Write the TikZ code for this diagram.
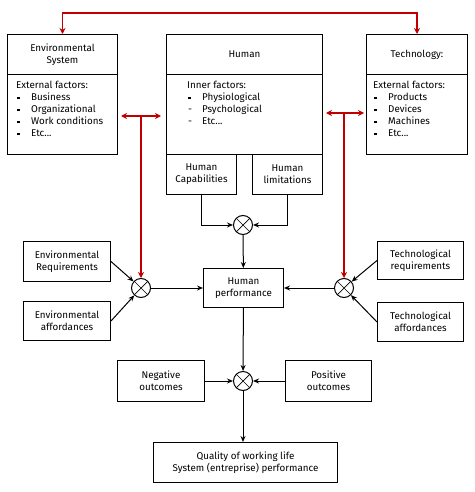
\documentclass[tikz,border=0pt]{standalone}
\usepackage{fontspec}
\setmainfont{Fira Sans}
\usetikzlibrary{arrows.meta,calc}
\definecolor{dred}{RGB}{192,0,0}
\newcommand{\sqb}{\rule[0.25ex]{0.5ex}{0.5ex}}
\newcommand{\bl}[1]{\makebox[15pt][l]{\hspace{1pt}\sqb}#1}
\newcommand{\dl}[1]{\makebox[15pt][l]{\hspace{1pt}-}#1}
\begin{document}
\begin{tikzpicture}[x=1pt,y=-1pt,
 box/.style={draw,line width=1pt,inner sep=0,anchor=north west,align=center,font=\fontsize{9.8}{12}\selectfont},
 txt/.style={inner sep=0,anchor=north west,align=left,font=\fontsize{9.8}{12}\selectfont},
 mult/.style={draw,circle,line width=1pt,minimum size=19,inner sep=0,
   path picture={\draw[line width=0.7pt] (path picture bounding box.north west)--(path picture bounding box.south east) (path picture bounding box.north east)--(path picture bounding box.south west);}},
 conn/.style={line width=1pt,-{Stealth[length=6pt,width=5pt]}},
 rline/.style={draw=dred,line width=1.5pt},
 rtip/.style={-{Stealth[length=6pt,width=6pt]}},
 rtips/.style={{Stealth[length=6pt,width=6pt]}-{Stealth[length=6pt,width=6pt]}},
 ]
\useasboundingbox (0,0) rectangle (474,492);
% top row
\node[box,minimum width=110,minimum height=40] (envT) at (7,34) {Environmental\\System};
\node[box,minimum width=110,minimum height=80] (envB) at (7,74) {};
\node[txt] (envX) at (16,81) {External factors:\\\bl{Business}\\\bl{Organizational}\\\bl{Work conditions}\\\bl{Etc...}};
\node[box,minimum width=156,minimum height=40] (humT) at (166,34) {Human};
\node[box,minimum width=156,minimum height=80] (humB) at (166,74) {};
\node[txt] (humX) at (187,81) {Inner factors:\\\bl{Physiological}\\\dl{Psychological}\\\dl{Etc...}};
\node[box,minimum width=70,minimum height=40] (cap) at (166,154) {Human\\Capabilities};
\node[box,minimum width=70,minimum height=40] (lim) at (252,154) {Human\\limitations};
\node[box,minimum width=101,minimum height=40] (techT) at (366,34) {Technology:};
\node[box,minimum width=101,minimum height=80] (techB) at (366,74) {};
\node[txt] (techX) at (373,81) {External factors:\\\bl{Products}\\\bl{Devices}\\\bl{Machines}\\\bl{Etc...}};
% middle
\node[box,minimum width=87,minimum height=40] (envReq) at (23,241) {Environmental\\Requirements};
\node[box,minimum width=87,minimum height=39] (envAff) at (23,301) {Environmental\\affordances};
\node[box,minimum width=80,minimum height=39] (hp) at (203,268) {Human\\performance};
\node[box,minimum width=86,minimum height=38] (techReq) at (377,241) {Technological\\requirements};
\node[box,minimum width=86,minimum height=39] (techAff) at (377,302) {Technological\\affordances};
\node[box,minimum width=87,minimum height=41] (neg) at (117,360) {Negative\\outcomes};
\node[box,minimum width=86,minimum height=41] (pos) at (285,360) {Positive\\outcomes};
\node[box,minimum width=184,minimum height=40] (qual) at (153,442) {Quality of working life\\System (entreprise) performance};
% multipliers
\node[mult] (cH) at (243,225) {};
\node[mult] (cL) at (141,288) {};
\node[mult] (cR) at (344,288) {};
\node[mult] (cB) at (243,381) {};
\coordinate (lm) at (141,116);
\coordinate (rm) at (344,113);
% red connectors
\draw[rline,rtips] (envT.north) -- ++(0,-21) -| (techT.north);
\draw[rline,rtips,shorten <=3pt,shorten >=5pt] (envB.east|-lm) -- (humB.west|-lm);
\draw[rline,rtip] (lm) -- (cL.north);
\draw[rline,rtips,shorten <=3pt,shorten >=2pt] (humB.east|-rm) -- (techB.west|-rm);
\draw[rline,rtip] (rm) -- (cR.north);
% black connectors
\draw[conn] (cap.south) |- (cH.west);
\draw[conn] (lim.south) |- (cH.east);
\draw[conn] (cH) -- (hp);
\draw[conn] (envReq.east) -- (cL);
\draw[conn] (envAff.east) -- (cL);
\draw[conn] (cL) -- (hp);
\draw[conn] (cR) -- (hp);
\draw[conn] (techReq.west) -- (cR);
\draw[conn] (techAff.west) -- (cR);
\draw[conn] (hp) -- (cB);
\draw[conn] (neg) -- (cB);
\draw[conn] (pos) -- (cB);
\draw[conn] (cB.south) -- (cB.south|-qual.north);
\end{tikzpicture}
\end{document}
